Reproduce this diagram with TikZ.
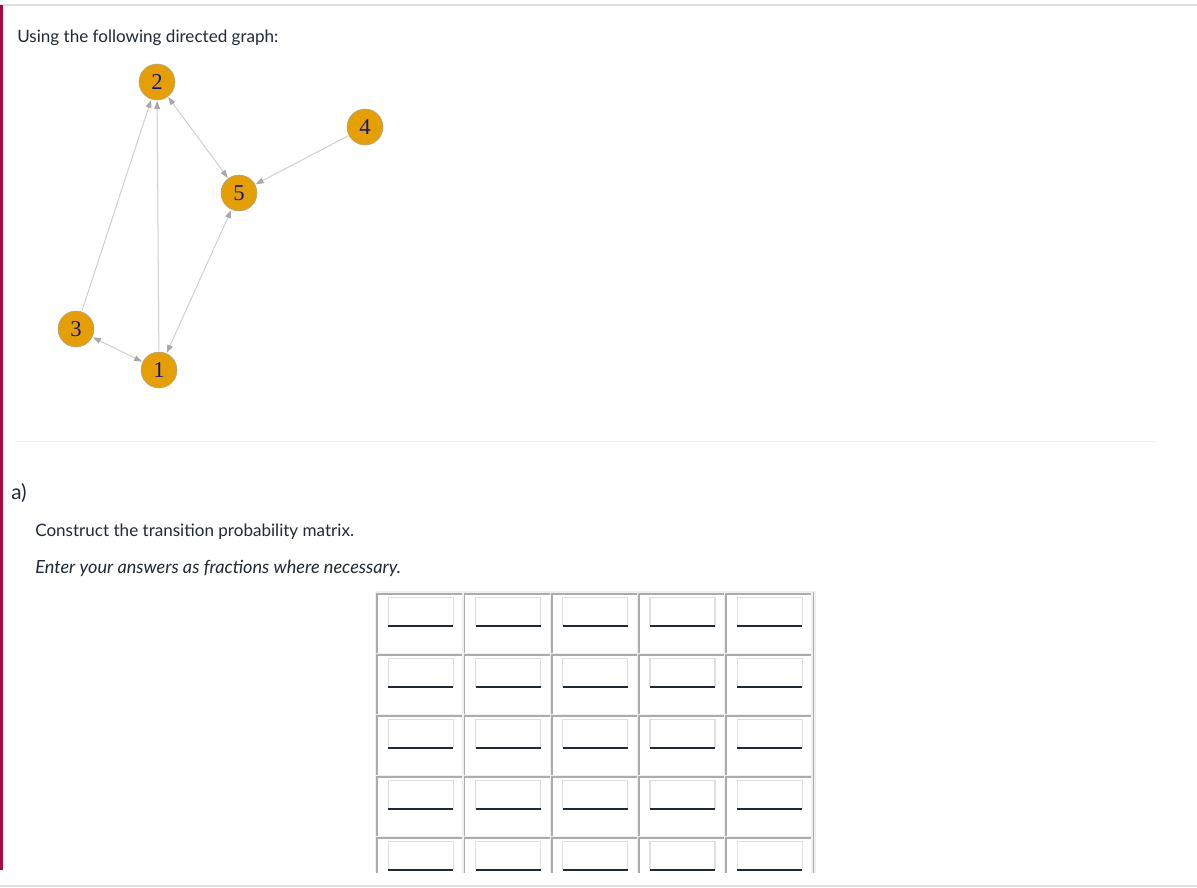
\documentclass[tikz,border=0pt]{standalone}
\usepackage{fontspec}
\setmainfont{Lato}
\newfontfamily\vertexfont{Liberation Serif}
\usetikzlibrary{automata, positioning, arrows.meta}
\definecolor{inktext}{RGB}{32,42,52}
\definecolor{accentbar}{RGB}{164,10,60}
\definecolor{vfill}{RGB}{230,159,0}
\definecolor{vlabel}{RGB}{20,20,140}
\definecolor{edgegray}{RGB}{208,208,208}
\definecolor{tipgray}{RGB}{168,168,168}
\tikzset{
    >={Triangle[length=6pt,width=4.2pt,color=tipgray]},
    every state/.style={draw=gray!70, fill=vfill, text=vlabel, line width=0.4pt,
        font=\vertexfont\fontsize{17}{17}\selectfont, minimum size=27pt, inner sep=0pt},
    link/.style={draw=edgegray, line width=0.75pt, shorten >=0.4pt, shorten <=0.4pt},
    prose/.style={anchor=west, text=inktext, inner sep=0pt, font=\fontsize{12.8}{15}\selectfont},
    cellrule/.style={draw=gray!65, line width=1.4pt},
    boxrim/.style={draw=gray!25, line width=0.9pt},
    boxbase/.style={draw=inktext, line width=1.3pt},
}

\begin{document}
\begin{tikzpicture}[x=0.75pt, y=-0.75pt]
\useasboundingbox (0,0) rectangle (1197,888);
\fill[white] (0,0) rectangle (1197,888);

% page frame
\draw[gray!25, line width=1.5pt] (0,5) -- (1197,5);
\draw[gray!25, line width=1.5pt] (0,886) -- (1197,886);
\fill[accentbar] (0,5) rectangle (2.5,870);
\draw[gray!10, line width=0.75pt] (16,441) -- (1157,441);

% texts
\node[prose] (intro) at (17,38) {Using the following directed graph:};
\node[prose, font=\fontsize{15.5}{18}\selectfont] (part) at (11,493) {a)};
\node[prose] (task) at (35,532) {Construct the transition probability matrix.};
\node[prose, font=\itshape\fontsize{13.6}{16}\selectfont] (hint) at (35,568) {Enter your answers as fractions where necessary.};

% vertices
\node[state] (v2) at (157,82) {2};
\node[state] (v4) at (365,127) {4};
\node[state] (v5) at (239,193) {5};
\node[state] (v3) at (76,329) {3};
\node[state] (v1) at (159,370) {1};

% arcs
\draw (v3) edge[link, ->] (v2);
\draw (v1) edge[link, ->] (v2);
\draw (v2) edge[link, <->] (v5);
\draw (v4) edge[link, ->] (v5);
\draw (v5) edge[link, <->] (v1);
\draw (v3) edge[link, <->] (v1);

% answer grid
\begin{scope}
\clip (370,585) rectangle (820,872);
\fill[gray!12] (375,591) rectangle (816,880);
\foreach \r in {0,...,4} {
  \foreach \c in {0,...,4} {
    \pgfmathsetmacro\cx{377.3+87.2*\c}
    \pgfmathsetmacro\cy{594+61*\r}
    \fill[white] (\cx,\cy) rectangle ++(85,59);
    \draw[cellrule] (\cx,\cy+59) |- (\cx+85,\cy);
    \draw[boxrim] (\cx+11,\cy+3.3) rectangle ++(65,28.4);
    \draw[boxbase] (\cx+11,\cy+31.7) -- ++(65,0);
  }
}
\draw[cellrule] (813.5,592) -- (813.5,880);
\end{scope}
\end{tikzpicture}
\end{document}
